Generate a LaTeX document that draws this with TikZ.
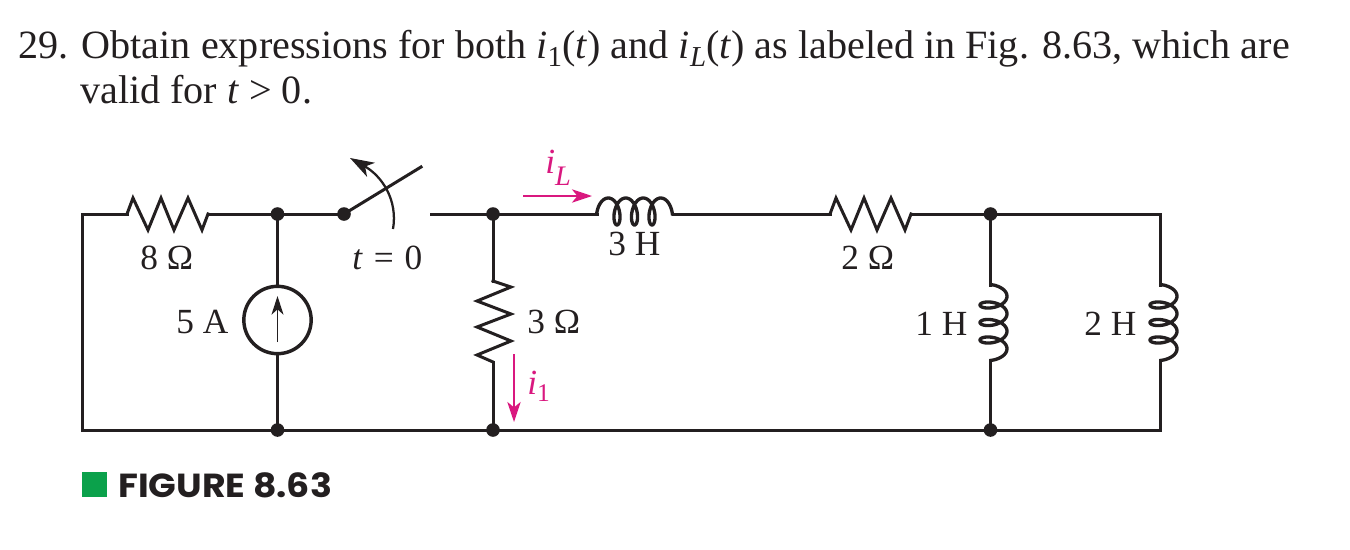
\documentclass[tikz,border=0pt]{standalone}
\usepackage{fontspec}
\setmainfont{Liberation Serif}
\newfontfamily\captionfont{Poppins}[BoldFont={Poppins Bold}]
\usetikzlibrary{arrows.meta}
\definecolor{ink}{HTML}{231F20}
\definecolor{pinkish}{HTML}{D9187F}
\definecolor{figgreen}{HTML}{0BA14B}
\newcommand{\lowered}[1]{\raisebox{-0.22em}{\scalebox{0.72}{#1}}}
\newcommand{\lowerer}[1]{\raisebox{-0.36em}{\scalebox{0.8}{#1}}}
% coil along x with its loops on the lower side
\newcommand{\hcoil}[1]{\draw[wire,line width=2.5pt] plot[smooth,domain=-100:1180,samples=130,variable=\t]
    ({#1+11.25+\t/360*17.5+6.85*sin(\t)},{211.5-13.5*cos(\t)});}
% the same coil along y, loops to the left
\newcommand{\vcoil}[2]{\draw[wire,line width=2.5pt] plot[smooth,domain=-100:1180,samples=130,variable=\t]
    ({#1+13.5*cos(\t)},{#2+11.25+\t/360*17.5+6.85*sin(\t)});}
\begin{document}
\begin{tikzpicture} [
            x=0.75pt,y=-0.75pt,
            every node/.style={text=ink},
            wire/.style = {draw=ink,line width=2.25pt,line join=miter,line cap=rect},
            junction/.style = {circle,fill=ink,minimum size=10.2pt,inner sep=0pt},
            source/.style = {circle,draw=ink,line width=2.6pt,minimum size=50.5pt,inner sep=0pt},
            value/.style = {anchor=base west,inner sep=0pt,font=\fontsize{26.5}{30}\selectfont},
            heading/.style = {anchor=base west,inner sep=0pt,font=\fontsize{30.1}{34}\selectfont},
            current/.style = {draw=pinkish,line width=1.5pt,-{Stealth[length=15pt,width=10pt,inset=4pt]}},
        ]
        \useasboundingbox (0,0) rectangle (1350,550);
        % Problem text
        \node[heading] (lineone) at (18,58) {29. Obtain expressions for both \textit{i}\lowered{1}(\textit{t}) and \textit{i}\lowered{\textit{L}}(\textit{t}) as labeled in Fig. 8.63, which are};
        \node[heading] (linetwo) at (80,103) {valid for \textit{t} > 0.};
        % First the junctions and the free ends of the wires
        \foreach \pos/\name in {
                (277.5,214)/na,(277.5,430)/nb,
                (493,214)/nc,(493,430)/nd,
                (990.5,214)/ne,(990.5,430)/nf}
            \node[junction] (\name) at \pos {};
        \node[junction] (pivot) at (344,214) {};
        \foreach \pos/\name in {
                (82,214)/tl,(82,430)/bl,(1160,214)/tr,(1160,430)/br,
                (127,214)/reighta,(208,214)/reightb,
                (830,214)/rtwoa,(911,214)/rtwob,
                (493,281)/rthreea,(493,362)/rthreeb,
                (597,214)/lthreea,(673,214)/lthreeb,
                (990.5,285)/lonea,(990.5,360)/loneb,
                (1160,285)/ltwoa,(1160,360)/ltwob,
                (431,214)/contact,(421,167)/blade,
                (393,229)/swinga,(350,158)/swingb,
                (277.5,342)/srca,(277.5,296)/srcb,
                (523,196)/ila,(592,196)/ilb,
                (514,354)/ioa,(514,422)/iob}
            \node[coordinate] (\name) at \pos {};
        \node[source] (src) at (277.5,320) {};
        % Connect with wires
        \foreach \source/\dest in {
                bl/tl,tl/reighta,reightb/na,na/pivot,
                contact/nc,nc/lthreea,lthreeb/rtwoa,rtwob/ne,
                ne/tr,tr/ltwoa,ltwob/br,br/bl,
                ne/lonea,loneb/nf,
                nc/rthreea,rthreeb/nd,
                na/src,src/nb}
            \path[wire] (\source) -- (\dest);
        % Resistors
        \draw[wire] (reighta) -- ++(6,-16) -- ++(15,32) -- ++(13,-32) -- ++(13,32) -- ++(14,-32) -- ++(14,32) -- (reightb);
        \draw[wire] (rtwoa) -- ++(6,-16) -- ++(15,32) -- ++(13,-32) -- ++(13,32) -- ++(14,-32) -- ++(14,32) -- (rtwob);
        \draw[wire] (rthreea) -- ++(18,6) -- ++(-34,14) -- ++(34,13) -- ++(-34,13) -- ++(34,14) -- ++(-34,14) -- (rthreeb);
        % Inductors
        \hcoil{597}
        \vcoil{993.5}{285}
        \vcoil{1163.5}{285}
        % Switch
        \path[wire] (pivot.center) -- (blade);
        \draw[ink,line width=1.7pt,-{Stealth[length=18pt,width=12pt,inset=5pt]}] (swinga) .. controls (398,200) and (382,176) .. (swingb);
        \draw[ink,line width=1.1pt,-{Stealth[length=14pt,width=9pt,inset=4pt]}] (srca) -- (srcb);
        % Current arrows
        \path[current] (ila) -- (ilb);
        \path[current] (ioa) -- (iob);
        % Labels
        \foreach \pos/\name/\txt in {
                {(140,269)/leight/8 Ω},
                {(352,269)/lswitch/\textit{t}\kern1.6pt\ =\kern1.6pt\ 0},
                {(176,333)/lfive/5 A},
                {(527,333)/lthree/3 Ω},
                {(608,255)/lhthree/3 H},
                {(841,269)/ltwo/2 Ω},
                {(915,335)/lhone/1 H},
                {(1084,335)/lhtwo/2 H}}
            \node[value] (\name) at \pos {\txt};
        \node[value,text=pinkish] (il) at (545,173) {\textit{i}\lowerer{\textit{L}}};
        \node[value,text=pinkish] (io) at (527,394) {\textit{i}\lowered{1}};
        % Caption
        \node[fill=figgreen,minimum size=18.4pt,inner sep=0pt,anchor=north west] (mark) at (82,472) {};
        \node[anchor=base west,inner sep=0pt,font=\captionfont\bfseries\fontsize{25}{28}\selectfont] (caption) at (118,497) {\scalebox{1.09}[1]{FIGURE 8.63}};
    \end{tikzpicture}
\end{document}
